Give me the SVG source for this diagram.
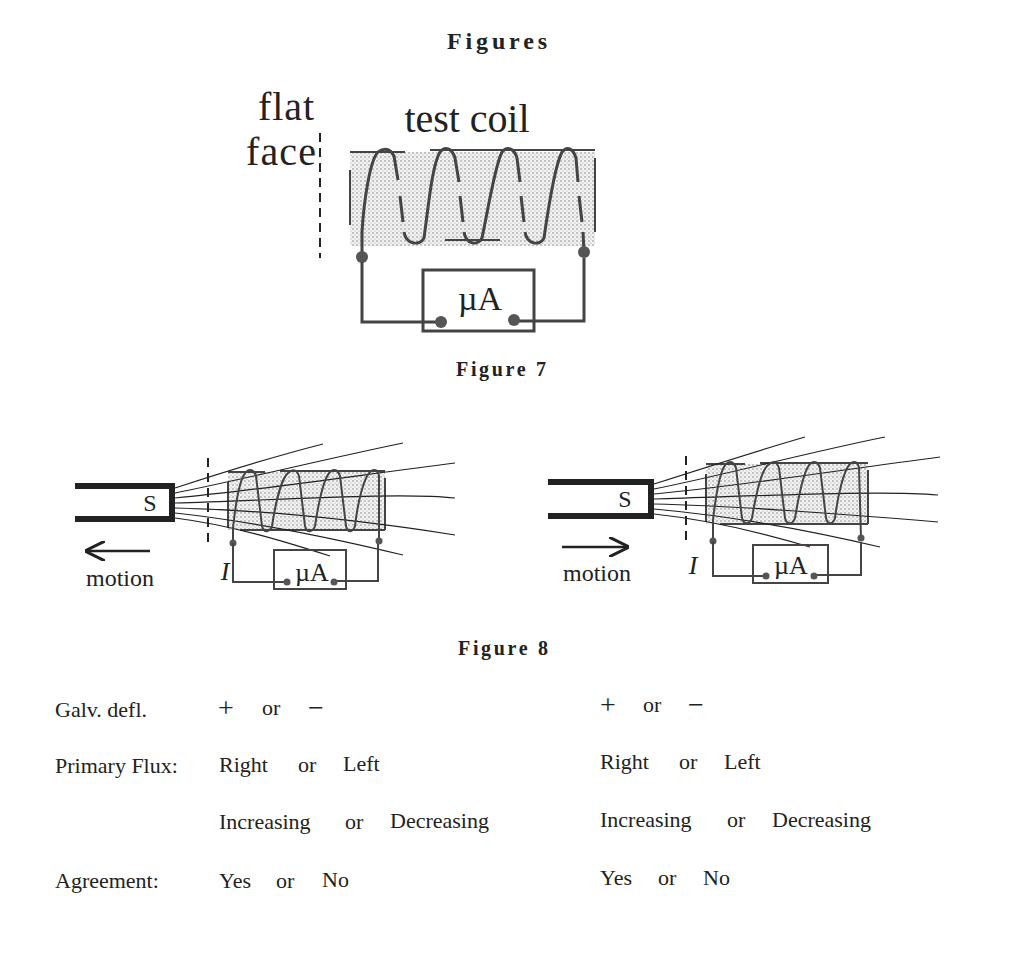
<svg xmlns="http://www.w3.org/2000/svg" width="1024" height="979" viewBox="0 0 1024 979">
<defs>
<pattern id="dots" width="4" height="4" patternUnits="userSpaceOnUse"><rect width="4" height="4" fill="#f2f2f2"/><circle cx="1" cy="1" r="0.8" fill="#888"/><circle cx="3" cy="3" r="0.6" fill="#aaa"/></pattern>
<marker id="ah" viewBox="0 0 10 10" refX="9" refY="5" markerWidth="8" markerHeight="8" orient="auto"><path d="M0,0 L10,5 L0,10" fill="none" stroke="#222" stroke-width="1.5"/></marker>
</defs>
<style>
.t{font-family:"Liberation Serif",serif;fill:#222}
.w{fill:none;stroke:#444;stroke-width:3}
.w2{fill:none;stroke:#444;stroke-width:2}
.d{fill:none;stroke:#222;stroke-width:2;stroke-dasharray:9,6}
.f{fill:none;stroke:#222;stroke-width:1.2}
.dt{fill:#555}
</style>
<rect width="1024" height="979" fill="#fff"/>
<text class="t" x="497" y="49" font-size="24" font-weight="bold" text-anchor="middle" textLength="100">Figures</text>

<g id="fig7">
<text class="t" x="286" y="120" font-size="40" text-anchor="middle" textLength="56">flat</text>
<text class="t" x="281" y="165" font-size="40" text-anchor="middle" textLength="70">face</text>
<text class="t" x="467" y="132" font-size="40" text-anchor="middle" textLength="125">test coil</text>
<line class="d" x1="320" y1="133" x2="320" y2="258"/>
<rect x="350" y="152" width="245" height="94" fill="url(#dots)"/>
<line class="w2" x1="350" y1="152" x2="405" y2="152"/><line class="w2" x1="430" y1="150" x2="545" y2="150"/><line class="w2" x1="518" y1="150" x2="595" y2="150"/>
<line class="w2" x1="350" y1="170" x2="350" y2="225"/><line class="w2" x1="595" y1="158" x2="595" y2="232"/>
<line class="w2" x1="445" y1="240" x2="500" y2="240"/>
<path class="w" d="M362,256 L362,232 C364,200 370,160 378,152 C384,148 390,148 394,156 L398,180 M400,196 L403,222 M404,232 C406,245 420,246 424,238 C428,210 432,165 440,152 C445,146 452,148 455,158 L459,182 M460,196 L463,222 M464,232 C466,245 478,246 482,238 C488,210 495,165 502,152 C507,146 514,148 517,158 L520,182 M521,196 L524,222 M525,232 C527,245 540,246 544,238 C548,210 555,165 562,152 C567,146 573,148 576,158 L578,182 M579,196 L582,222 M583,232 L584,252"/>
<circle class="dt" cx="362" cy="257" r="6"/><circle class="dt" cx="584" cy="252" r="6"/>
<path class="w" d="M362,262 L362,322 L440,322 M515,321 L584,321 L584,258"/>
<rect class="w" x="423" y="270" width="111" height="61"/>
<text class="t" x="480" y="310" font-size="34" text-anchor="middle" font-family="Liberation Sans">µA</text>
<circle class="dt" cx="441" cy="322" r="6"/><circle class="dt" cx="514" cy="320" r="6"/>
<text class="t" x="501" y="376" font-size="20" font-weight="bold" text-anchor="middle" textLength="90">Figure 7</text>
</g>

<g id="fig8a">
<path d="M75,486 L172,486 L172,519 L75,519" fill="none" stroke="#222" stroke-width="6"/>
<text class="t" x="150" y="511" font-size="24" text-anchor="middle">S</text>
<line class="d" x1="208" y1="458" x2="208" y2="542"/>
<rect x="228" y="472" width="157" height="58" fill="url(#dots)"/>
<line class="w2" x1="228" y1="472" x2="265" y2="472"/><line class="w2" x1="280" y1="471" x2="385" y2="471"/>
<line class="w2" x1="228" y1="482" x2="228" y2="528"/><line class="w2" x1="385" y1="478" x2="385" y2="530"/>
<line class="w2" x1="240" y1="530" x2="385" y2="530"/>
<path class="f" d="M175,488 C230,470 280,455 323,444 M175,493 C240,480 330,458 403,443 M175,498 C260,490 360,475 455,463 M175,503 C280,500 400,492 455,498 M175,508 C260,510 360,520 455,535 M175,513 C240,520 320,535 403,555 M175,518 C230,525 280,540 330,556"/>
<path class="w2" d="M233,543 L233,528 C236,500 240,478 246,472 C250,468 254,470 256,476 L262,526 C264,534 270,532 272,526 C276,500 282,478 288,473 C293,468 297,470 299,476 L305,526 C307,534 313,532 315,526 C319,500 324,478 330,472 C334,468 338,470 340,476 L346,526 C348,534 353,532 355,526 C358,500 364,478 370,472 C374,468 378,470 379,476 L379,540"/>
<circle class="dt" cx="233" cy="543" r="3.5"/><circle class="dt" cx="379" cy="541" r="3.5"/>
<path class="w2" d="M233,543 L233,582 L287,582 M334,581 L378,581 L378,544"/>
<rect class="w2" x="274" y="550" width="72" height="39"/>
<text class="t" x="312" y="581" font-size="26" text-anchor="middle" font-family="Liberation Sans">µA</text>
<circle class="dt" cx="287" cy="582" r="3.5"/><circle class="dt" cx="334" cy="582" r="3.5"/>
<text class="t" x="225" y="580" font-size="26" font-style="italic" text-anchor="middle">I</text>
<line x1="150" y1="551" x2="87" y2="551" stroke="#222" stroke-width="2.5" marker-end="url(#ah)"/>
<text class="t" x="120" y="586" font-size="24" text-anchor="middle">motion</text>
</g>

<g id="fig8b">
<path d="M548,482 L651,482 L651,516 L548,516" fill="none" stroke="#222" stroke-width="6"/>
<text class="t" x="625" y="507" font-size="24" text-anchor="middle">S</text>
<line class="d" x1="686" y1="456" x2="686" y2="545"/>
<rect x="706" y="464" width="162" height="60" fill="url(#dots)"/>
<line class="w2" x1="706" y1="464" x2="745" y2="464"/><line class="w2" x1="760" y1="463" x2="868" y2="463"/>
<line class="w2" x1="706" y1="474" x2="706" y2="522"/><line class="w2" x1="868" y1="470" x2="868" y2="524"/>
<line class="w2" x1="720" y1="524" x2="868" y2="524"/>
<path class="f" d="M654,484 C710,466 760,450 805,437 M654,489 C720,476 810,452 885,437 M654,494 C740,486 840,470 940,457 M654,499 C760,496 880,490 938,495 M654,504 C740,506 840,514 938,522 M654,509 C720,515 800,528 880,547 M654,514 C710,520 760,532 810,547"/>
<path class="w2" d="M713,541 L713,520 C716,494 720,470 726,464 C730,460 734,462 736,468 L742,518 C744,526 750,524 752,518 C756,494 762,470 768,465 C773,460 777,462 779,468 L785,518 C787,526 793,524 795,518 C799,494 804,470 810,464 C814,460 818,462 820,468 L826,518 C828,526 833,524 835,518 C838,494 844,470 850,464 C854,460 858,462 859,468 L861,538"/>
<circle class="dt" cx="713" cy="541" r="3.5"/><circle class="dt" cx="861" cy="538" r="3.5"/>
<path class="w2" d="M713,541 L713,576 L766,576 M814,575 L861,575 L861,542"/>
<rect class="w2" x="753" y="545" width="75" height="38"/>
<text class="t" x="791" y="574" font-size="26" text-anchor="middle" font-family="Liberation Sans">µA</text>
<circle class="dt" cx="766" cy="576" r="3.5"/><circle class="dt" cx="814" cy="576" r="3.5"/>
<text class="t" x="693" y="574" font-size="26" font-style="italic" text-anchor="middle">I</text>
<line x1="562" y1="547" x2="627" y2="547" stroke="#222" stroke-width="2.5" marker-end="url(#ah)"/>
<text class="t" x="597" y="581" font-size="24" text-anchor="middle">motion</text>
</g>

<text class="t" x="503" y="655" font-size="20" font-weight="bold" text-anchor="middle" textLength="90">Figure 8</text>

<g id="table" font-size="22">
<text class="t" x="55" y="717">Galv. defl.</text>
<text class="t" x="218" y="717" font-size="28">+</text><text class="t" x="262" y="715">or</text><text class="t" x="308" y="717" font-size="28">−</text>
<text class="t" x="600" y="714" font-size="28">+</text><text class="t" x="643" y="712">or</text><text class="t" x="688" y="714" font-size="28">−</text>
<text class="t" x="55" y="773">Primary Flux:</text>
<text class="t" x="219" y="772">Right</text><text class="t" x="298" y="772">or</text><text class="t" x="343" y="771">Left</text>
<text class="t" x="600" y="769">Right</text><text class="t" x="679" y="769">or</text><text class="t" x="724" y="769">Left</text>
<text class="t" x="219" y="829">Increasing</text><text class="t" x="345" y="829">or</text><text class="t" x="390" y="828">Decreasing</text>
<text class="t" x="600" y="827">Increasing</text><text class="t" x="727" y="827">or</text><text class="t" x="772" y="827">Decreasing</text>
<text class="t" x="55" y="888">Agreement:</text>
<text class="t" x="219" y="888">Yes</text><text class="t" x="276" y="888">or</text><text class="t" x="322" y="887">No</text>
<text class="t" x="600" y="885">Yes</text><text class="t" x="658" y="885">or</text><text class="t" x="703" y="885">No</text>
</g>
</svg>
